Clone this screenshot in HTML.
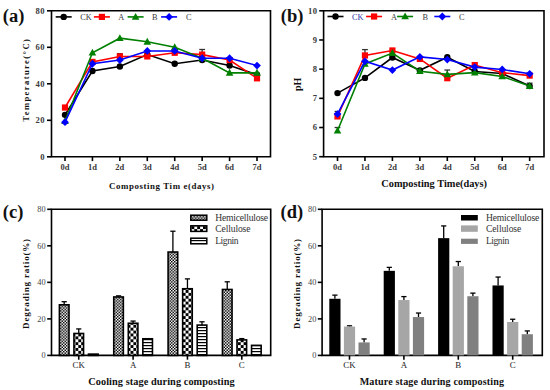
<!DOCTYPE html>
<html><head><meta charset="utf-8"><style>
html,body{margin:0;padding:0;background:#fff;}
svg{display:block;font-family:"Liberation Serif", serif;}
</style></head><body>
<svg width="550" height="390" viewBox="0 0 550 390">
<rect width="550" height="390" fill="#fff"/>
<path d="M51.50,10.80 L270.50,10.80 L270.50,156.80 L51.50,156.80 Z" fill="none" stroke="#000" stroke-width="1.6"/>
<line x1="47.00" y1="156.80" x2="51.50" y2="156.80" stroke="#000" stroke-width="1.6" />
<text x="45.10" y="159.60" font-size="8.6" text-anchor="end" font-weight="bold" fill="#3a3a3a" letter-spacing="0.5">0</text>
<line x1="47.00" y1="120.30" x2="51.50" y2="120.30" stroke="#000" stroke-width="1.6" />
<text x="45.10" y="123.10" font-size="8.6" text-anchor="end" font-weight="bold" fill="#3a3a3a" letter-spacing="0.5">20</text>
<line x1="47.00" y1="83.80" x2="51.50" y2="83.80" stroke="#000" stroke-width="1.6" />
<text x="45.10" y="86.60" font-size="8.6" text-anchor="end" font-weight="bold" fill="#3a3a3a" letter-spacing="0.5">40</text>
<line x1="47.00" y1="47.30" x2="51.50" y2="47.30" stroke="#000" stroke-width="1.6" />
<text x="45.10" y="50.10" font-size="8.6" text-anchor="end" font-weight="bold" fill="#3a3a3a" letter-spacing="0.5">60</text>
<line x1="47.00" y1="10.80" x2="51.50" y2="10.80" stroke="#000" stroke-width="1.6" />
<text x="45.10" y="13.60" font-size="8.6" text-anchor="end" font-weight="bold" fill="#3a3a3a" letter-spacing="0.5">80</text>
<line x1="65.00" y1="156.80" x2="65.00" y2="161.10" stroke="#000" stroke-width="1.6" />
<text x="65.00" y="169.70" font-size="8.5" text-anchor="middle" font-weight="bold" fill="#3a3a3a" >0d</text>
<line x1="92.43" y1="156.80" x2="92.43" y2="161.10" stroke="#000" stroke-width="1.6" />
<text x="92.43" y="169.70" font-size="8.5" text-anchor="middle" font-weight="bold" fill="#3a3a3a" >1d</text>
<line x1="119.86" y1="156.80" x2="119.86" y2="161.10" stroke="#000" stroke-width="1.6" />
<text x="119.86" y="169.70" font-size="8.5" text-anchor="middle" font-weight="bold" fill="#3a3a3a" >2d</text>
<line x1="147.29" y1="156.80" x2="147.29" y2="161.10" stroke="#000" stroke-width="1.6" />
<text x="147.29" y="169.70" font-size="8.5" text-anchor="middle" font-weight="bold" fill="#3a3a3a" >3d</text>
<line x1="174.72" y1="156.80" x2="174.72" y2="161.10" stroke="#000" stroke-width="1.6" />
<text x="174.72" y="169.70" font-size="8.5" text-anchor="middle" font-weight="bold" fill="#3a3a3a" >4d</text>
<line x1="202.15" y1="156.80" x2="202.15" y2="161.10" stroke="#000" stroke-width="1.6" />
<text x="202.15" y="169.70" font-size="8.5" text-anchor="middle" font-weight="bold" fill="#3a3a3a" >5d</text>
<line x1="229.58" y1="156.80" x2="229.58" y2="161.10" stroke="#000" stroke-width="1.6" />
<text x="229.58" y="169.70" font-size="8.5" text-anchor="middle" font-weight="bold" fill="#3a3a3a" >6d</text>
<line x1="257.01" y1="156.80" x2="257.01" y2="161.10" stroke="#000" stroke-width="1.6" />
<text x="257.01" y="169.70" font-size="8.5" text-anchor="middle" font-weight="bold" fill="#3a3a3a" >7d</text>
<line x1="202.15" y1="54.60" x2="202.15" y2="49.49" stroke="#333" stroke-width="1.3" />
<line x1="199.25" y1="49.49" x2="205.05" y2="49.49" stroke="#333" stroke-width="1.3" />
<line x1="119.86" y1="56.43" x2="119.86" y2="53.69" stroke="#333" stroke-width="1.3" />
<line x1="116.96" y1="53.69" x2="122.76" y2="53.69" stroke="#333" stroke-width="1.3" />
<polyline points="65.00,114.83 92.43,71.03 119.86,66.46 147.29,54.60 174.72,63.73 202.15,60.08 229.58,65.55 257.01,74.68" fill="none" stroke="#000000" stroke-width="1.6"/>
<circle cx="65.00" cy="114.83" r="3.20" fill="#000000"/>
<circle cx="92.43" cy="71.03" r="3.20" fill="#000000"/>
<circle cx="119.86" cy="66.46" r="3.20" fill="#000000"/>
<circle cx="147.29" cy="54.60" r="3.20" fill="#000000"/>
<circle cx="174.72" cy="63.73" r="3.20" fill="#000000"/>
<circle cx="202.15" cy="60.08" r="3.20" fill="#000000"/>
<circle cx="229.58" cy="65.55" r="3.20" fill="#000000"/>
<circle cx="257.01" cy="74.68" r="3.20" fill="#000000"/>
<polyline points="65.00,107.53 92.43,61.90 119.86,56.43 147.29,56.43 174.72,52.78 202.15,54.60 229.58,60.08 257.01,78.33" fill="none" stroke="#ff0000" stroke-width="1.6"/>
<rect x="61.90" y="104.43" width="6.20" height="6.20" fill="#ff0000"/>
<rect x="89.33" y="58.80" width="6.20" height="6.20" fill="#ff0000"/>
<rect x="116.76" y="53.33" width="6.20" height="6.20" fill="#ff0000"/>
<rect x="144.19" y="53.33" width="6.20" height="6.20" fill="#ff0000"/>
<rect x="171.62" y="49.68" width="6.20" height="6.20" fill="#ff0000"/>
<rect x="199.05" y="51.50" width="6.20" height="6.20" fill="#ff0000"/>
<rect x="226.48" y="56.98" width="6.20" height="6.20" fill="#ff0000"/>
<rect x="253.91" y="75.23" width="6.20" height="6.20" fill="#ff0000"/>
<polyline points="65.00,121.21 92.43,52.78 119.86,38.18 147.29,41.83 174.72,47.30 202.15,58.25 229.58,72.85 257.01,72.85" fill="none" stroke="#008000" stroke-width="1.6"/>
<polygon points="65.00,117.21 68.80,124.01 61.20,124.01" fill="#008000"/>
<polygon points="92.43,48.78 96.23,55.58 88.63,55.58" fill="#008000"/>
<polygon points="119.86,34.18 123.66,40.98 116.06,40.98" fill="#008000"/>
<polygon points="147.29,37.83 151.09,44.63 143.49,44.63" fill="#008000"/>
<polygon points="174.72,43.30 178.52,50.10 170.92,50.10" fill="#008000"/>
<polygon points="202.15,54.25 205.95,61.05 198.35,61.05" fill="#008000"/>
<polygon points="229.58,68.85 233.38,75.65 225.78,75.65" fill="#008000"/>
<polygon points="257.01,68.85 260.81,75.65 253.21,75.65" fill="#008000"/>
<polyline points="65.00,122.13 92.43,63.73 119.86,60.08 147.29,50.95 174.72,50.95 202.15,58.25 229.58,58.25 257.01,65.55" fill="none" stroke="#0000ff" stroke-width="1.6"/>
<polygon points="65.00,118.23 68.90,122.13 65.00,126.03 61.10,122.13" fill="#0000ff"/>
<polygon points="92.43,59.83 96.33,63.73 92.43,67.63 88.53,63.73" fill="#0000ff"/>
<polygon points="119.86,56.18 123.76,60.08 119.86,63.98 115.96,60.08" fill="#0000ff"/>
<polygon points="147.29,47.05 151.19,50.95 147.29,54.85 143.39,50.95" fill="#0000ff"/>
<polygon points="174.72,47.05 178.62,50.95 174.72,54.85 170.82,50.95" fill="#0000ff"/>
<polygon points="202.15,54.35 206.05,58.25 202.15,62.15 198.25,58.25" fill="#0000ff"/>
<polygon points="229.58,54.35 233.48,58.25 229.58,62.15 225.68,58.25" fill="#0000ff"/>
<polygon points="257.01,61.65 260.91,65.55 257.01,69.45 253.11,65.55" fill="#0000ff"/>
<line x1="55.70" y1="16.90" x2="71.70" y2="16.90" stroke="#000000" stroke-width="1.6" />
<circle cx="63.70" cy="16.90" r="3.20" fill="#000000"/>
<text x="80.30" y="19.80" font-size="8.3" text-anchor="start" font-weight="normal" fill="#3a3a3a" >CK</text>
<line x1="93.90" y1="16.90" x2="109.90" y2="16.90" stroke="#ff0000" stroke-width="1.6" />
<rect x="98.80" y="13.80" width="6.20" height="6.20" fill="#ff0000"/>
<text x="118.30" y="19.80" font-size="8.3" text-anchor="start" font-weight="normal" fill="#3a3a3a" >A</text>
<line x1="127.60" y1="16.90" x2="143.60" y2="16.90" stroke="#008000" stroke-width="1.6" />
<polygon points="135.60,12.90 139.40,19.70 131.80,19.70" fill="#008000"/>
<text x="152.10" y="19.80" font-size="8.3" text-anchor="start" font-weight="normal" fill="#3a3a3a" >B</text>
<line x1="161.10" y1="16.90" x2="177.10" y2="16.90" stroke="#0000ff" stroke-width="1.6" />
<polygon points="169.10,13.00 173.00,16.90 169.10,20.80 165.20,16.90" fill="#0000ff"/>
<text x="185.90" y="19.80" font-size="8.3" text-anchor="start" font-weight="normal" fill="#3a3a3a" >C</text>
<text x="2.80" y="22.00" font-size="18.5" text-anchor="start" font-weight="bold" fill="#111" >(a)</text>
<text x="109.00" y="189.40" font-size="8.9" text-anchor="start" font-weight="bold" fill="#111" textLength="105" lengthAdjust="spacing" >Composting Tim e(days)</text>
<g transform="translate(28.6,80.4) rotate(-90)">
<text x="0.00" y="0.00" font-size="8.6" text-anchor="middle" font-weight="bold" fill="#111" textLength="82.5" lengthAdjust="spacing" >Temperature(°C)</text>
</g>
<path d="M323.60,10.80 L544.00,10.80 L544.00,156.70 L323.60,156.70 Z" fill="none" stroke="#000" stroke-width="1.6"/>
<line x1="319.20" y1="156.70" x2="323.60" y2="156.70" stroke="#000" stroke-width="1.6" />
<text x="317.60" y="159.50" font-size="8.6" text-anchor="end" font-weight="bold" fill="#3a3a3a" letter-spacing="0.5">5</text>
<line x1="319.20" y1="127.52" x2="323.60" y2="127.52" stroke="#000" stroke-width="1.6" />
<text x="317.60" y="130.32" font-size="8.6" text-anchor="end" font-weight="bold" fill="#3a3a3a" letter-spacing="0.5">6</text>
<line x1="319.20" y1="98.34" x2="323.60" y2="98.34" stroke="#000" stroke-width="1.6" />
<text x="317.60" y="101.14" font-size="8.6" text-anchor="end" font-weight="bold" fill="#3a3a3a" letter-spacing="0.5">7</text>
<line x1="319.20" y1="69.16" x2="323.60" y2="69.16" stroke="#000" stroke-width="1.6" />
<text x="317.60" y="71.96" font-size="8.6" text-anchor="end" font-weight="bold" fill="#3a3a3a" letter-spacing="0.5">8</text>
<line x1="319.20" y1="39.98" x2="323.60" y2="39.98" stroke="#000" stroke-width="1.6" />
<text x="317.60" y="42.78" font-size="8.6" text-anchor="end" font-weight="bold" fill="#3a3a3a" letter-spacing="0.5">9</text>
<line x1="319.20" y1="10.80" x2="323.60" y2="10.80" stroke="#000" stroke-width="1.6" />
<text x="317.60" y="13.60" font-size="8.6" text-anchor="end" font-weight="bold" fill="#3a3a3a" letter-spacing="0.5">10</text>
<line x1="337.50" y1="156.70" x2="337.50" y2="161.00" stroke="#000" stroke-width="1.6" />
<text x="337.50" y="170.00" font-size="8.5" text-anchor="middle" font-weight="bold" fill="#3a3a3a" >0d</text>
<line x1="364.95" y1="156.70" x2="364.95" y2="161.00" stroke="#000" stroke-width="1.6" />
<text x="364.95" y="170.00" font-size="8.5" text-anchor="middle" font-weight="bold" fill="#3a3a3a" >1d</text>
<line x1="392.40" y1="156.70" x2="392.40" y2="161.00" stroke="#000" stroke-width="1.6" />
<text x="392.40" y="170.00" font-size="8.5" text-anchor="middle" font-weight="bold" fill="#3a3a3a" >2d</text>
<line x1="419.85" y1="156.70" x2="419.85" y2="161.00" stroke="#000" stroke-width="1.6" />
<text x="419.85" y="170.00" font-size="8.5" text-anchor="middle" font-weight="bold" fill="#3a3a3a" >3d</text>
<line x1="447.30" y1="156.70" x2="447.30" y2="161.00" stroke="#000" stroke-width="1.6" />
<text x="447.30" y="170.00" font-size="8.5" text-anchor="middle" font-weight="bold" fill="#3a3a3a" >4d</text>
<line x1="474.75" y1="156.70" x2="474.75" y2="161.00" stroke="#000" stroke-width="1.6" />
<text x="474.75" y="170.00" font-size="8.5" text-anchor="middle" font-weight="bold" fill="#3a3a3a" >5d</text>
<line x1="502.20" y1="156.70" x2="502.20" y2="161.00" stroke="#000" stroke-width="1.6" />
<text x="502.20" y="170.00" font-size="8.5" text-anchor="middle" font-weight="bold" fill="#3a3a3a" >6d</text>
<line x1="529.65" y1="156.70" x2="529.65" y2="161.00" stroke="#000" stroke-width="1.6" />
<text x="529.65" y="170.00" font-size="8.5" text-anchor="middle" font-weight="bold" fill="#3a3a3a" >7d</text>
<line x1="364.95" y1="54.57" x2="364.95" y2="49.61" stroke="#333" stroke-width="1.3" />
<line x1="362.05" y1="49.61" x2="367.85" y2="49.61" stroke="#333" stroke-width="1.3" />
<line x1="337.50" y1="115.85" x2="337.50" y2="111.47" stroke="#333" stroke-width="1.3" />
<line x1="334.60" y1="111.47" x2="340.40" y2="111.47" stroke="#333" stroke-width="1.3" />
<line x1="337.50" y1="130.44" x2="337.50" y2="127.52" stroke="#333" stroke-width="1.3" />
<line x1="334.60" y1="127.52" x2="340.40" y2="127.52" stroke="#333" stroke-width="1.3" />
<line x1="447.30" y1="74.41" x2="447.30" y2="70.04" stroke="#333" stroke-width="1.3" />
<line x1="444.40" y1="70.04" x2="450.20" y2="70.04" stroke="#333" stroke-width="1.3" />
<line x1="529.65" y1="86.08" x2="529.65" y2="83.17" stroke="#333" stroke-width="1.3" />
<line x1="526.75" y1="83.17" x2="532.55" y2="83.17" stroke="#333" stroke-width="1.3" />
<polyline points="337.50,93.09 364.95,77.91 392.40,57.49 419.85,70.33 447.30,57.20 474.75,71.49 502.20,73.54 529.65,86.08" fill="none" stroke="#000000" stroke-width="1.6"/>
<circle cx="337.50" cy="93.09" r="3.20" fill="#000000"/>
<circle cx="364.95" cy="77.91" r="3.20" fill="#000000"/>
<circle cx="392.40" cy="57.49" r="3.20" fill="#000000"/>
<circle cx="419.85" cy="70.33" r="3.20" fill="#000000"/>
<circle cx="447.30" cy="57.20" r="3.20" fill="#000000"/>
<circle cx="474.75" cy="71.49" r="3.20" fill="#000000"/>
<circle cx="502.20" cy="73.54" r="3.20" fill="#000000"/>
<circle cx="529.65" cy="86.08" r="3.20" fill="#000000"/>
<polyline points="337.50,116.43 364.95,55.45 392.40,50.48 419.85,58.95 447.30,78.21 474.75,65.07 502.20,72.66 529.65,75.58" fill="none" stroke="#ff0000" stroke-width="1.6"/>
<rect x="334.40" y="113.33" width="6.20" height="6.20" fill="#ff0000"/>
<rect x="361.85" y="52.35" width="6.20" height="6.20" fill="#ff0000"/>
<rect x="389.30" y="47.38" width="6.20" height="6.20" fill="#ff0000"/>
<rect x="416.75" y="55.85" width="6.20" height="6.20" fill="#ff0000"/>
<rect x="444.20" y="75.11" width="6.20" height="6.20" fill="#ff0000"/>
<rect x="471.65" y="61.97" width="6.20" height="6.20" fill="#ff0000"/>
<rect x="499.10" y="69.56" width="6.20" height="6.20" fill="#ff0000"/>
<rect x="526.55" y="72.48" width="6.20" height="6.20" fill="#ff0000"/>
<polyline points="337.50,130.73 364.95,63.91 392.40,53.11 419.85,71.20 447.30,74.41 474.75,72.66 502.20,76.46 529.65,86.08" fill="none" stroke="#008000" stroke-width="1.6"/>
<polygon points="337.50,126.73 341.30,133.53 333.70,133.53" fill="#008000"/>
<polygon points="364.95,59.91 368.75,66.71 361.15,66.71" fill="#008000"/>
<polygon points="392.40,49.11 396.20,55.91 388.60,55.91" fill="#008000"/>
<polygon points="419.85,67.20 423.65,74.00 416.05,74.00" fill="#008000"/>
<polygon points="447.30,70.41 451.10,77.21 443.50,77.21" fill="#008000"/>
<polygon points="474.75,68.66 478.55,75.46 470.95,75.46" fill="#008000"/>
<polygon points="502.20,72.46 506.00,79.26 498.40,79.26" fill="#008000"/>
<polygon points="529.65,82.08 533.45,88.88 525.85,88.88" fill="#008000"/>
<polyline points="337.50,114.10 364.95,61.28 392.40,70.04 419.85,56.90 447.30,59.53 474.75,67.12 502.20,69.45 529.65,73.83" fill="none" stroke="#0000ff" stroke-width="1.6"/>
<polygon points="337.50,110.20 341.40,114.10 337.50,118.00 333.60,114.10" fill="#0000ff"/>
<polygon points="364.95,57.38 368.85,61.28 364.95,65.18 361.05,61.28" fill="#0000ff"/>
<polygon points="392.40,66.14 396.30,70.04 392.40,73.94 388.50,70.04" fill="#0000ff"/>
<polygon points="419.85,53.00 423.75,56.90 419.85,60.80 415.95,56.90" fill="#0000ff"/>
<polygon points="447.30,55.63 451.20,59.53 447.30,63.43 443.40,59.53" fill="#0000ff"/>
<polygon points="474.75,63.22 478.65,67.12 474.75,71.02 470.85,67.12" fill="#0000ff"/>
<polygon points="502.20,65.55 506.10,69.45 502.20,73.35 498.30,69.45" fill="#0000ff"/>
<polygon points="529.65,69.93 533.55,73.83 529.65,77.73 525.75,73.83" fill="#0000ff"/>
<line x1="327.50" y1="16.50" x2="343.50" y2="16.50" stroke="#000000" stroke-width="1.6" />
<circle cx="335.50" cy="16.50" r="3.20" fill="#000000"/>
<text x="352.00" y="19.50" font-size="8.3" text-anchor="start" font-weight="normal" fill="#3333aa" >CK</text>
<line x1="366.10" y1="16.50" x2="382.10" y2="16.50" stroke="#ff0000" stroke-width="1.6" />
<rect x="371.00" y="13.40" width="6.20" height="6.20" fill="#ff0000"/>
<text x="391.10" y="19.50" font-size="8.3" text-anchor="start" font-weight="normal" fill="#3a3a3a" >A</text>
<line x1="397.10" y1="16.50" x2="413.10" y2="16.50" stroke="#008000" stroke-width="1.6" />
<polygon points="405.10,12.50 408.90,19.30 401.30,19.30" fill="#008000"/>
<text x="422.50" y="19.50" font-size="8.3" text-anchor="start" font-weight="normal" fill="#3a3a3a" >B</text>
<line x1="434.30" y1="16.50" x2="450.30" y2="16.50" stroke="#0000ff" stroke-width="1.6" />
<polygon points="442.30,12.60 446.20,16.50 442.30,20.40 438.40,16.50" fill="#0000ff"/>
<text x="458.90" y="19.50" font-size="8.3" text-anchor="start" font-weight="normal" fill="#3a3a3a" >C</text>
<text x="280.80" y="21.80" font-size="18.5" text-anchor="start" font-weight="bold" fill="#111" >(b)</text>
<text x="381.30" y="186.60" font-size="11" text-anchor="start" font-weight="bold" fill="#111" textLength="105.7" lengthAdjust="spacingAndGlyphs" >Composting Time(days)</text>
<g transform="translate(301.2,84.4) rotate(-90)">
<text x="0.00" y="0.00" font-size="10" text-anchor="middle" font-weight="bold" fill="#111" >pH</text>
</g>
<defs>
<pattern id="hemi" width="3" height="2.9" patternUnits="userSpaceOnUse"><rect width="3" height="2.9" fill="#fff"/><rect width="1.5" height="1.45" fill="#000"/><rect x="1.5" y="1.45" width="1.5" height="1.45" fill="#000"/></pattern>
<pattern id="cell" width="5.8" height="5.8" patternUnits="userSpaceOnUse"><rect width="5.8" height="5.8" fill="#fff"/><rect width="2.9" height="2.9" fill="#000"/><rect x="2.9" y="2.9" width="2.9" height="2.9" fill="#000"/></pattern>
<pattern id="lig" width="3" height="3" patternUnits="userSpaceOnUse"><rect width="3" height="3" fill="#fff"/><rect y="0" width="3" height="1.2" fill="#000"/></pattern>
</defs>
<path d="M51.50,209.30 L270.70,209.30 L270.70,355.40 L51.50,355.40 Z" fill="none" stroke="#000" stroke-width="1.6"/>
<line x1="47.20" y1="355.40" x2="51.50" y2="355.40" stroke="#000" stroke-width="1.6" />
<text x="45.60" y="358.20" font-size="8.3" text-anchor="end" font-weight="normal" fill="#444" >0</text>
<line x1="47.20" y1="318.88" x2="51.50" y2="318.88" stroke="#000" stroke-width="1.6" />
<text x="45.60" y="321.68" font-size="8.3" text-anchor="end" font-weight="normal" fill="#444" >20</text>
<line x1="47.20" y1="282.35" x2="51.50" y2="282.35" stroke="#000" stroke-width="1.6" />
<text x="45.60" y="285.15" font-size="8.3" text-anchor="end" font-weight="normal" fill="#444" >40</text>
<line x1="47.20" y1="245.82" x2="51.50" y2="245.82" stroke="#000" stroke-width="1.6" />
<text x="45.60" y="248.62" font-size="8.3" text-anchor="end" font-weight="normal" fill="#444" >60</text>
<line x1="47.20" y1="209.30" x2="51.50" y2="209.30" stroke="#000" stroke-width="1.6" />
<text x="45.60" y="212.10" font-size="8.3" text-anchor="end" font-weight="normal" fill="#444" >80</text>
<line x1="64.20" y1="304.81" x2="64.20" y2="301.71" stroke="#000" stroke-width="1.3" />
<line x1="61.60" y1="301.71" x2="66.80" y2="301.71" stroke="#000" stroke-width="1.3" />
<rect x="59.40" y="304.81" width="9.60" height="50.59" fill="url(#hemi)" stroke="#000" stroke-width="1.6" />
<line x1="78.75" y1="333.48" x2="78.75" y2="328.92" stroke="#000" stroke-width="1.3" />
<line x1="76.15" y1="328.92" x2="81.35" y2="328.92" stroke="#000" stroke-width="1.3" />
<rect x="73.95" y="333.48" width="9.60" height="21.92" fill="url(#cell)" stroke="#000" stroke-width="1.6" />
<rect x="88.50" y="354.12" width="9.60" height="1.28" fill="url(#lig)" stroke="#000" stroke-width="1.6" />
<line x1="78.75" y1="355.40" x2="78.75" y2="359.70" stroke="#000" stroke-width="1.6" />
<line x1="118.55" y1="296.96" x2="118.55" y2="295.86" stroke="#000" stroke-width="1.3" />
<line x1="115.95" y1="295.86" x2="121.15" y2="295.86" stroke="#000" stroke-width="1.3" />
<rect x="113.75" y="296.96" width="9.60" height="58.44" fill="url(#hemi)" stroke="#000" stroke-width="1.6" />
<line x1="133.10" y1="323.26" x2="133.10" y2="321.07" stroke="#000" stroke-width="1.3" />
<line x1="130.50" y1="321.07" x2="135.70" y2="321.07" stroke="#000" stroke-width="1.3" />
<rect x="128.30" y="323.26" width="9.60" height="32.14" fill="url(#cell)" stroke="#000" stroke-width="1.6" />
<rect x="142.85" y="338.78" width="9.60" height="16.62" fill="url(#lig)" stroke="#000" stroke-width="1.6" />
<line x1="133.10" y1="355.40" x2="133.10" y2="359.70" stroke="#000" stroke-width="1.6" />
<line x1="172.90" y1="252.03" x2="172.90" y2="231.22" stroke="#000" stroke-width="1.3" />
<line x1="170.30" y1="231.22" x2="175.50" y2="231.22" stroke="#000" stroke-width="1.3" />
<rect x="168.10" y="252.03" width="9.60" height="103.37" fill="url(#hemi)" stroke="#000" stroke-width="1.6" />
<line x1="187.45" y1="288.74" x2="187.45" y2="278.88" stroke="#000" stroke-width="1.3" />
<line x1="184.85" y1="278.88" x2="190.05" y2="278.88" stroke="#000" stroke-width="1.3" />
<rect x="182.65" y="288.74" width="9.60" height="66.66" fill="url(#cell)" stroke="#000" stroke-width="1.6" />
<line x1="202.00" y1="325.08" x2="202.00" y2="321.80" stroke="#000" stroke-width="1.3" />
<line x1="199.40" y1="321.80" x2="204.60" y2="321.80" stroke="#000" stroke-width="1.3" />
<rect x="197.20" y="325.08" width="9.60" height="30.32" fill="url(#lig)" stroke="#000" stroke-width="1.6" />
<line x1="187.45" y1="355.40" x2="187.45" y2="359.70" stroke="#000" stroke-width="1.6" />
<line x1="227.25" y1="289.47" x2="227.25" y2="281.80" stroke="#000" stroke-width="1.3" />
<line x1="224.65" y1="281.80" x2="229.85" y2="281.80" stroke="#000" stroke-width="1.3" />
<rect x="222.45" y="289.47" width="9.60" height="65.93" fill="url(#hemi)" stroke="#000" stroke-width="1.6" />
<line x1="241.80" y1="339.88" x2="241.80" y2="338.60" stroke="#000" stroke-width="1.3" />
<line x1="239.20" y1="338.60" x2="244.40" y2="338.60" stroke="#000" stroke-width="1.3" />
<rect x="237.00" y="339.88" width="9.60" height="15.52" fill="url(#cell)" stroke="#000" stroke-width="1.6" />
<rect x="251.55" y="345.36" width="9.60" height="10.04" fill="url(#lig)" stroke="#000" stroke-width="1.6" />
<line x1="241.80" y1="355.40" x2="241.80" y2="359.70" stroke="#000" stroke-width="1.6" />
<text x="78.75" y="367.60" font-size="8.9" text-anchor="middle" font-weight="normal" fill="#222" >CK</text>
<text x="133.10" y="367.60" font-size="8.9" text-anchor="middle" font-weight="normal" fill="#222" >A</text>
<text x="187.45" y="367.60" font-size="8.9" text-anchor="middle" font-weight="normal" fill="#222" >B</text>
<text x="241.80" y="367.60" font-size="8.9" text-anchor="middle" font-weight="normal" fill="#222" >C</text>
<rect x="190.80" y="215.20" width="16.00" height="5.00" fill="url(#hemi)" stroke="#000" stroke-width="1.5" />
<text x="215.20" y="221.00" font-size="9.6" text-anchor="start" font-weight="normal" fill="#333" textLength="52.8" lengthAdjust="spacing" >Hemicellulose</text>
<rect x="190.80" y="225.80" width="16.00" height="5.60" fill="url(#cell)" stroke="#000" stroke-width="1.5" />
<text x="215.20" y="231.60" font-size="9.6" text-anchor="start" font-weight="normal" fill="#333" textLength="35.3" lengthAdjust="spacing" >Cellulose</text>
<rect x="190.80" y="238.20" width="16.00" height="5.60" fill="url(#lig)" stroke="#000" stroke-width="1.5" />
<text x="215.20" y="244.10" font-size="9.6" text-anchor="start" font-weight="normal" fill="#333" textLength="23.3" lengthAdjust="spacing" >Lignin</text>
<text x="2.80" y="217.80" font-size="18.5" text-anchor="start" font-weight="bold" fill="#111" >(c)</text>
<text x="88.20" y="384.50" font-size="10.3" text-anchor="start" font-weight="bold" fill="#111" textLength="146.5" lengthAdjust="spacing" >Cooling stage during composting</text>
<g transform="translate(29.1,283.9) rotate(-90)">
<text x="0.00" y="0.00" font-size="9.0" text-anchor="middle" font-weight="bold" fill="#111" textLength="90" lengthAdjust="spacing" >Degrading ratio(%)</text>
</g>
<path d="M322.10,209.30 L542.30,209.30 L542.30,355.40 L322.10,355.40 Z" fill="none" stroke="#000" stroke-width="1.6"/>
<line x1="317.80" y1="355.40" x2="322.10" y2="355.40" stroke="#000" stroke-width="1.6" />
<text x="316.40" y="358.20" font-size="8.3" text-anchor="end" font-weight="normal" fill="#444" >0</text>
<line x1="317.80" y1="318.88" x2="322.10" y2="318.88" stroke="#000" stroke-width="1.6" />
<text x="316.40" y="321.68" font-size="8.3" text-anchor="end" font-weight="normal" fill="#444" >20</text>
<line x1="317.80" y1="282.35" x2="322.10" y2="282.35" stroke="#000" stroke-width="1.6" />
<text x="316.40" y="285.15" font-size="8.3" text-anchor="end" font-weight="normal" fill="#444" >40</text>
<line x1="317.80" y1="245.82" x2="322.10" y2="245.82" stroke="#000" stroke-width="1.6" />
<text x="316.40" y="248.62" font-size="8.3" text-anchor="end" font-weight="normal" fill="#444" >60</text>
<line x1="317.80" y1="209.30" x2="322.10" y2="209.30" stroke="#000" stroke-width="1.6" />
<text x="316.40" y="212.10" font-size="8.3" text-anchor="end" font-weight="normal" fill="#444" >80</text>
<line x1="334.90" y1="298.79" x2="334.90" y2="295.13" stroke="#000" stroke-width="1.3" />
<line x1="332.30" y1="295.13" x2="337.50" y2="295.13" stroke="#000" stroke-width="1.3" />
<rect x="329.30" y="298.79" width="11.20" height="56.61" fill="#000" stroke="none" stroke-width="0" />
<line x1="349.50" y1="326.55" x2="349.50" y2="325.81" stroke="#000" stroke-width="1.3" />
<line x1="346.90" y1="325.81" x2="352.10" y2="325.81" stroke="#000" stroke-width="1.3" />
<rect x="343.90" y="326.55" width="11.20" height="28.85" fill="#a6a6a6" stroke="none" stroke-width="0" />
<line x1="364.10" y1="342.43" x2="364.10" y2="338.96" stroke="#000" stroke-width="1.3" />
<line x1="361.50" y1="338.96" x2="366.70" y2="338.96" stroke="#000" stroke-width="1.3" />
<rect x="358.50" y="342.43" width="11.20" height="12.97" fill="#808080" stroke="none" stroke-width="0" />
<line x1="349.50" y1="355.40" x2="349.50" y2="359.70" stroke="#000" stroke-width="1.6" />
<line x1="389.30" y1="270.84" x2="389.30" y2="267.37" stroke="#000" stroke-width="1.3" />
<line x1="386.70" y1="267.37" x2="391.90" y2="267.37" stroke="#000" stroke-width="1.3" />
<rect x="383.70" y="270.84" width="11.20" height="84.56" fill="#000" stroke="none" stroke-width="0" />
<line x1="403.90" y1="300.06" x2="403.90" y2="296.59" stroke="#000" stroke-width="1.3" />
<line x1="401.30" y1="296.59" x2="406.50" y2="296.59" stroke="#000" stroke-width="1.3" />
<rect x="398.30" y="300.06" width="11.20" height="55.34" fill="#a6a6a6" stroke="none" stroke-width="0" />
<line x1="418.50" y1="317.05" x2="418.50" y2="313.03" stroke="#000" stroke-width="1.3" />
<line x1="415.90" y1="313.03" x2="421.10" y2="313.03" stroke="#000" stroke-width="1.3" />
<rect x="412.90" y="317.05" width="11.20" height="38.35" fill="#808080" stroke="none" stroke-width="0" />
<line x1="403.90" y1="355.40" x2="403.90" y2="359.70" stroke="#000" stroke-width="1.6" />
<line x1="443.70" y1="238.15" x2="443.70" y2="225.92" stroke="#000" stroke-width="1.3" />
<line x1="441.10" y1="225.92" x2="446.30" y2="225.92" stroke="#000" stroke-width="1.3" />
<rect x="438.10" y="238.15" width="11.20" height="117.25" fill="#000" stroke="none" stroke-width="0" />
<line x1="458.30" y1="266.28" x2="458.30" y2="261.53" stroke="#000" stroke-width="1.3" />
<line x1="455.70" y1="261.53" x2="460.90" y2="261.53" stroke="#000" stroke-width="1.3" />
<rect x="452.70" y="266.28" width="11.20" height="89.12" fill="#a6a6a6" stroke="none" stroke-width="0" />
<line x1="472.90" y1="296.23" x2="472.90" y2="293.12" stroke="#000" stroke-width="1.3" />
<line x1="470.30" y1="293.12" x2="475.50" y2="293.12" stroke="#000" stroke-width="1.3" />
<rect x="467.30" y="296.23" width="11.20" height="59.17" fill="#808080" stroke="none" stroke-width="0" />
<line x1="458.30" y1="355.40" x2="458.30" y2="359.70" stroke="#000" stroke-width="1.6" />
<line x1="498.10" y1="285.45" x2="498.10" y2="277.05" stroke="#000" stroke-width="1.3" />
<line x1="495.50" y1="277.05" x2="500.70" y2="277.05" stroke="#000" stroke-width="1.3" />
<rect x="492.50" y="285.45" width="11.20" height="69.95" fill="#000" stroke="none" stroke-width="0" />
<line x1="512.70" y1="321.98" x2="512.70" y2="319.24" stroke="#000" stroke-width="1.3" />
<line x1="510.10" y1="319.24" x2="515.30" y2="319.24" stroke="#000" stroke-width="1.3" />
<rect x="507.10" y="321.98" width="11.20" height="33.42" fill="#a6a6a6" stroke="none" stroke-width="0" />
<line x1="527.30" y1="334.22" x2="527.30" y2="330.93" stroke="#000" stroke-width="1.3" />
<line x1="524.70" y1="330.93" x2="529.90" y2="330.93" stroke="#000" stroke-width="1.3" />
<rect x="521.70" y="334.22" width="11.20" height="21.18" fill="#808080" stroke="none" stroke-width="0" />
<line x1="512.70" y1="355.40" x2="512.70" y2="359.70" stroke="#000" stroke-width="1.6" />
<text x="349.50" y="367.60" font-size="8.9" text-anchor="middle" font-weight="normal" fill="#222" >CK</text>
<text x="403.90" y="367.60" font-size="8.9" text-anchor="middle" font-weight="normal" fill="#222" >A</text>
<text x="458.30" y="367.60" font-size="8.9" text-anchor="middle" font-weight="normal" fill="#222" >B</text>
<text x="512.70" y="367.60" font-size="8.9" text-anchor="middle" font-weight="normal" fill="#222" >C</text>
<rect x="461.00" y="215.00" width="16.80" height="5.50" fill="#000" stroke="none" stroke-width="0" />
<text x="485.90" y="221.00" font-size="9.6" text-anchor="start" font-weight="normal" fill="#333" textLength="53.4" lengthAdjust="spacing" >Hemicellulose</text>
<rect x="461.00" y="225.40" width="16.80" height="6.40" fill="#a6a6a6" stroke="none" stroke-width="0" />
<text x="485.90" y="231.60" font-size="9.6" text-anchor="start" font-weight="normal" fill="#333" textLength="35.3" lengthAdjust="spacing" >Cellulose</text>
<rect x="461.00" y="238.70" width="16.80" height="5.20" fill="#808080" stroke="none" stroke-width="0" />
<text x="485.90" y="244.10" font-size="9.6" text-anchor="start" font-weight="normal" fill="#333" textLength="23.3" lengthAdjust="spacing" >Lignin</text>
<text x="280.60" y="218.30" font-size="18.5" text-anchor="start" font-weight="bold" fill="#111" >(d)</text>
<text x="359.70" y="384.70" font-size="10.1" text-anchor="start" font-weight="bold" fill="#111" textLength="144.4" lengthAdjust="spacing" >Mature stage during composting</text>
<g transform="translate(300.2,283.9) rotate(-90)">
<text x="0.00" y="0.00" font-size="9.0" text-anchor="middle" font-weight="bold" fill="#111" textLength="90" lengthAdjust="spacing" >Degrading ratio(%)</text>
</g>
</svg></body></html>
